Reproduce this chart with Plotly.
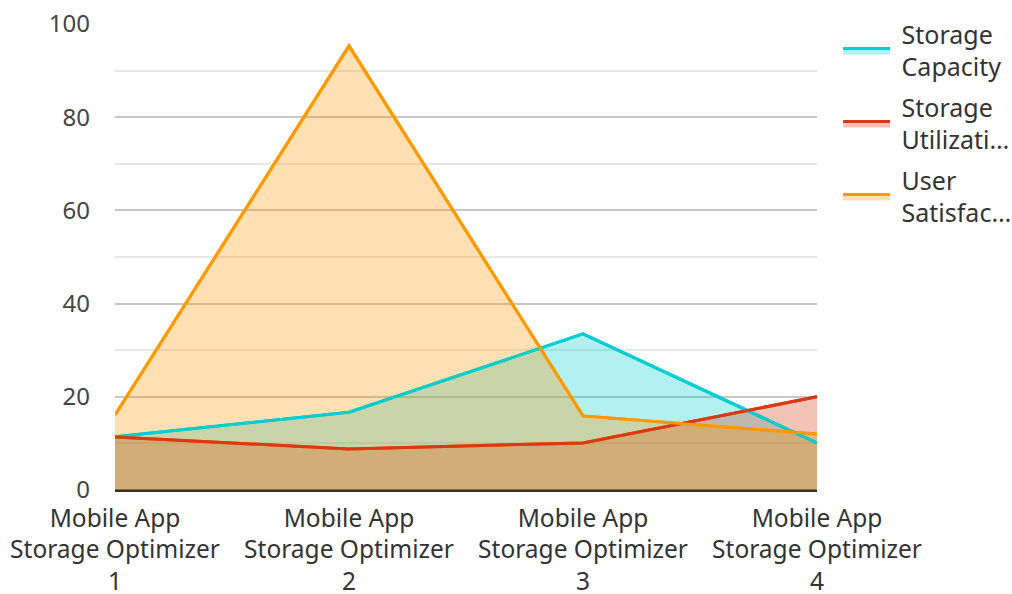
import plotly.graph_objects as go

categories = ["Mobile App<br>Storage Optimizer<br>1", "Mobile App<br>Storage Optimizer<br>2",
              "Mobile App<br>Storage Optimizer<br>3", "Mobile App<br>Storage Optimizer<br>4"]
storage_capacity = [11.4, 16.7, 33.5, 10.1]
storage_utilization = [11.4, 8.8, 10.1, 20.0]
user_satisfaction = [16.1, 95.3, 15.9, 12.0]

series = [
    ("\u00a0Storage<br>\u00a0Capacity", storage_capacity, "#00CED1", "rgba(0,206,209,0.3)"),
    ("\u00a0Storage<br>\u00a0Utilizati…", storage_utilization, "#DC3912", "rgba(220,57,18,0.3)"),
    ("\u00a0User<br>\u00a0Satisfac…", user_satisfaction, "#FF9900", "rgba(255,153,0,0.3)"),
]

xs = list(range(len(categories)))
fig = go.Figure()
for i, (name, vals, color, fill) in enumerate(series):
    fig.add_trace(go.Scatter(
        x=xs, y=vals, name=name, mode="lines", legendgroup=f"g{i}",
        line=dict(color=color, width=3), fill="tozeroy", fillcolor=fill,
    ))
# redraw lines on top of all fills
for i, (name, vals, color, fill) in enumerate(series):
    fig.add_trace(go.Scatter(
        x=xs, y=vals, name=name, mode="lines", showlegend=False, hoverinfo="skip",
        legendgroup=f"g{i}", line=dict(color=color, width=3),
    ))

fig.update_layout(
    width=1012, height=594,
    margin=dict(l=115, r=195, t=24, b=104, autoexpand=False),
    paper_bgcolor="white", plot_bgcolor="white",
    font=dict(family="Noto Sans", size=24, color="#444"),
    showlegend=True,
    legend=dict(x=1.03, y=1.027, xanchor="left", yanchor="top", itemwidth=47,
                font=dict(size=25, color="#333"), tracegroupgap=5),
    xaxis=dict(
        tickmode="array", tickvals=xs, ticktext=categories, automargin=False,
        range=[0, 3], showgrid=False, zeroline=False, showline=False, ticks="",
        tickfont=dict(size=24.5, color="#333"), ticklabelstandoff=11,
    ),
    yaxis=dict(
        range=[0, 100], dtick=20, showgrid=True, gridcolor="#C8C8C8", gridwidth=1.5,
        minor=dict(dtick=10, showgrid=True, gridcolor="#E8E8E8", gridwidth=1.5),
        zeroline=True, zerolinecolor="#333", zerolinewidth=2.5, automargin=False,
        ticks="", tickfont=dict(size=24, color="#444"), ticklabelstandoff=24,
    ),
)

fig.write_html("out.html", config={"displayModeBar": False},
               post_script="document.body.style.margin='0';")
